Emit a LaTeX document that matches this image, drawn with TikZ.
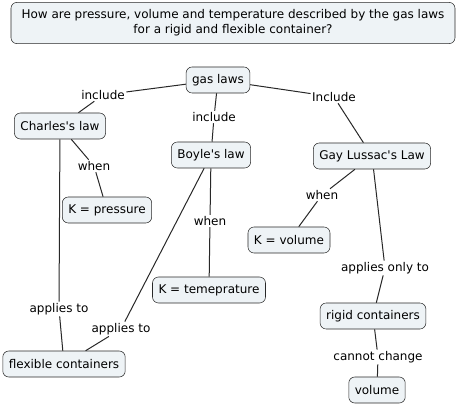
\documentclass[tikz,border=0pt]{standalone}
\usepackage{fontspec}
\setmainfont{DejaVu Sans}
\usetikzlibrary{backgrounds}
\definecolor{boxfill}{RGB}{238,243,246}
\definecolor{linegray}{RGB}{40,40,40}
\begin{document}
\begin{tikzpicture}[x=0.75pt,y=-0.75pt,
    concept/.style={draw=linegray,fill=boxfill,rounded corners=4.5pt,minimum height=19.5pt,inner xsep=4.5pt,font=\fontsize{9}{11.5}\selectfont},
    link/.style={inner sep=1pt,font=\fontsize{9}{11}\selectfont},
    conn/.style={draw=linegray,line width=0.75pt}]
\useasboundingbox (0,0) rectangle (457,406);
\node[concept,minimum width=333pt,minimum height=31pt,align=center] (question) at (233,23) {How are pressure, volume and temperature described by the gas laws\\for a rigid and flexible container?};
\node[concept] (gas) at (218,80) {gas laws};
\node[concept] (charles) at (60,126) {Charles\textquotesingle s law};
\node[concept] (boyle) at (211,155) {Boyle\textquotesingle s law};
\node[concept] (gay) at (372,156) {Gay Lussac\textquotesingle s Law};
\node[concept] (kpress) at (107,210) {K = pressure};
\node[concept] (kvol) at (289,240) {K = volume};
\node[concept] (ktemp) at (209,290) {K = temeprature};
\node[concept] (flexible) at (64,364) {flexible containers};
\node[concept] (rigid) at (373,316) {rigid containers};
\node[concept] (volume) at (377,390) {volume};
% linking phrases
\node[link] (inc1) at (103,95) {include};
\node[link] (inc2) at (214,117) {include};
\node[link] (inc3) at (334,97) {Include};
\node[link] (when1) at (94,166) {when};
\node[link] (when2) at (210,221) {when};
\node[link] (when3) at (322,195) {when};
\node[link] (app1) at (59,309) {applies to};
\node[link] (app2) at (121,329) {applies to};
\node[link] (appr) at (385,268) {applies only to};
\node[link] (cannot) at (378,357) {cannot change};
\begin{scope}[on background layer]
\draw[conn] (gas)--(inc1) (inc1)--(charles);
\draw[conn] (gas)--(inc2) (inc2)--(boyle);
\draw[conn] (gas)--(inc3) (inc3)--(gay);
\draw[conn] (charles)--(when1) (when1)--(kpress);
\draw[conn] (charles)--(app1) (app1)--(flexible);
\draw[conn] (boyle)--(when2) (when2)--(ktemp);
\draw[conn] (boyle)--(app2) (app2)--(flexible);
\draw[conn] (gay)--(when3) (when3)--(kvol);
\draw[conn] (gay)--(appr) (appr)--(rigid);
\draw[conn] (rigid)--(cannot) (cannot)--(volume);
\end{scope}
\end{tikzpicture}
\end{document}
